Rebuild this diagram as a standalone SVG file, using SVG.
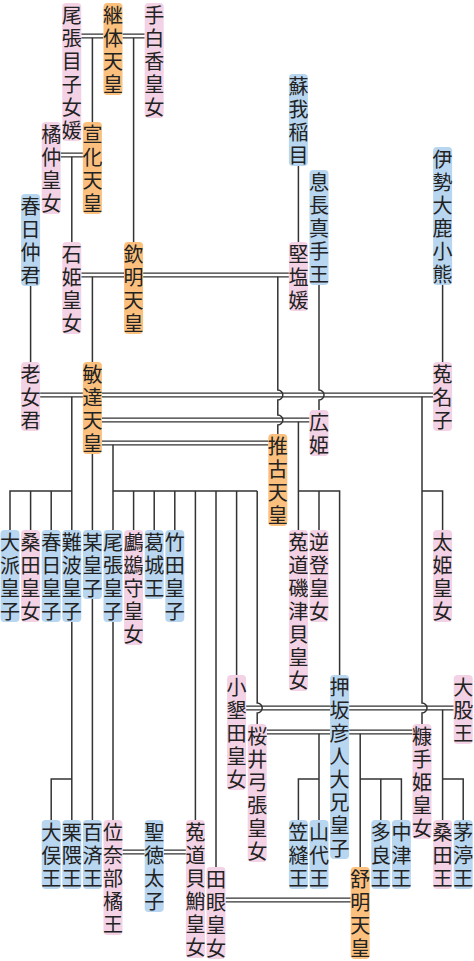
<svg xmlns="http://www.w3.org/2000/svg" width="474" height="961" viewBox="0 0 474 961">
<style>
.p{fill:#f4d2e5}.o{fill:#fbc07d}.u{fill:#b8d6f0}
text{font-family:"Noto Sans CJK JP","Noto Sans CJK SC",sans-serif;font-size:20px;fill:#222;writing-mode:vertical-rl;letter-spacing:3px}
.l{stroke:#333;stroke-width:1.5;fill:none}
.d{stroke:#333;stroke-width:1.3;fill:none}
</style>
<rect width="474" height="961" fill="#fff"/>
<g id="connectors">
<path class="d" d="M81.3 34.2H103.5M81.3 37.8H103.5"/>
<path class="d" d="M122.5 34.2H144.7M122.5 37.8H144.7"/>
<path class="d" d="M60.7 153.2H82.9M60.7 156.8H82.9"/>
<path class="d" d="M81.3 273.2H124.1M81.3 276.8H124.1"/>
<path class="d" d="M143.1 273.2H288.9M143.1 276.8H288.9"/>
<path class="d" d="M40.1 393.2H82.9M40.1 396.8H82.9"/>
<path class="d" d="M101.9 393.2H433.1M101.9 396.8H433.1"/>
<path class="d" d="M101.9 418.2H309.5M101.9 421.8H309.5"/>
<path class="d" d="M101.9 441.2H268.3M101.9 444.8H268.3"/>
<path class="d" d="M122.5 850.2H144.7M122.5 853.8H144.7"/>
<path class="d" d="M163.7 850.2H185.9M163.7 853.8H185.9"/>
<path class="d" d="M225.5 898.2H350.7M225.5 901.8H350.7"/>
<path class="d" d="M246.1 706.2H330.1M246.1 709.8H330.1"/>
<path class="d" d="M349.1 706.2H453.7M349.1 709.8H453.7"/>
<path class="d" d="M266.7 730.2H330.1M266.7 733.8H330.1"/>
<path class="d" d="M349.1 730.2H412.5M349.1 733.8H412.5"/>
<path class="l" d="M92.4 37.8V122"/>
<path class="l" d="M133.6 37.8V242"/>
<path class="l" d="M71.8 156.8V242"/>
<path class="l" d="M30.6 286V362"/>
<path class="l" d="M298.4 166V242"/>
<path class="l" d="M319 285V390a5 5 0 0 1 0 10V410"/>
<path class="l" d="M442.6 285V362"/>
<path class="l" d="M92.4 276.8V362"/>
<path class="l" d="M277.8 276.8V390a5 5 0 0 1 0 10V415a5 5 0 0 1 0 10V434"/>
<path class="l" d="M71.8 396.8V530M10 530V491H71.8M30.6 491V530M51.2 491V530"/>
<path class="l" d="M92.4 454V530"/>
<path class="l" d="M113 444.8V530M113 491H257.2M133.6 491V530M154.2 491V530M174.8 491V530M195.4 491V820M216 491V867M236.6 491V675M257.2 491V703a5 5 0 0 1 0 10V724"/>
<path class="l" d="M298.4 421.8V530M298.4 491H339.6V675M319 491V530"/>
<path class="l" d="M422 396.8V703a5 5 0 0 1 0 10V724M422 491H442.6V530"/>
<path class="l" d="M71.8 622V820M51.2 820V779H71.8"/>
<path class="l" d="M92.4 599V820"/>
<path class="l" d="M113 622V820"/>
<path class="l" d="M442.6 709.8V820M442.6 779H463.2V820"/>
<path class="l" d="M319 733.8V820M298.4 820V779H319"/>
<path class="l" d="M360.2 733.8V867M360.2 779H401.4V820M380.8 779V820"/>
</g>
<g id="n1"><rect class="p" x="62.3" y="3" width="19" height="138" rx="4"/><text x="71.8" y="5.5">尾張目子女媛</text></g>
<g id="n2"><rect class="o" x="103.5" y="3" width="19" height="92" rx="4"/><text x="113" y="5.5">継体天皇</text></g>
<g id="n3"><rect class="p" x="144.7" y="3" width="19" height="115" rx="4"/><text x="154.2" y="5.5">手白香皇女</text></g>
<g id="n4"><rect class="o" x="82.9" y="122" width="19" height="92" rx="4"/><text x="92.4" y="124.5">宣化天皇</text></g>
<g id="n5"><rect class="p" x="41.7" y="122" width="19" height="92" rx="4"/><text x="51.2" y="124.5">橘仲皇女</text></g>
<g id="n6"><rect class="u" x="21.1" y="194" width="19" height="92" rx="4"/><text x="30.6" y="196.5">春日仲君</text></g>
<g id="n7"><rect class="u" x="288.9" y="74" width="19" height="92" rx="4"/><text x="298.4" y="76.5">蘇我稲目</text></g>
<g id="n8"><rect class="u" x="309.5" y="170" width="19" height="115" rx="4"/><text x="319" y="172.5">息長真手王</text></g>
<g id="n9"><rect class="u" x="433.1" y="147" width="19" height="138" rx="4"/><text x="442.6" y="149.5">伊勢大鹿小熊</text></g>
<g id="n10"><rect class="p" x="62.3" y="242" width="19" height="92" rx="4"/><text x="71.8" y="244.5">石姫皇女</text></g>
<g id="n11"><rect class="o" x="124.1" y="242" width="19" height="92" rx="4"/><text x="133.6" y="244.5">欽明天皇</text></g>
<g id="n12"><rect class="p" x="288.9" y="242" width="19" height="69" rx="4"/><text x="298.4" y="244.5">堅塩媛</text></g>
<g id="n13"><rect class="p" x="21.1" y="362" width="19" height="69" rx="4"/><text x="30.6" y="364.5">老女君</text></g>
<g id="n14"><rect class="o" x="82.9" y="362" width="19" height="92" rx="4"/><text x="92.4" y="364.5">敏達天皇</text></g>
<g id="n15"><rect class="p" x="433.1" y="362" width="19" height="69" rx="4"/><text x="442.6" y="364.5">菟名子</text></g>
<g id="n16"><rect class="p" x="309.5" y="410" width="19" height="46" rx="4"/><text x="319" y="412.5">広姫</text></g>
<g id="n17"><rect class="o" x="268.3" y="434" width="19" height="92" rx="4"/><text x="277.8" y="436.5">推古天皇</text></g>
<g id="n18"><rect class="u" x="0.5" y="530" width="19" height="92" rx="4"/><text x="10" y="532.5">大派皇子</text></g>
<g id="n19"><rect class="p" x="21.1" y="530" width="19" height="92" rx="4"/><text x="30.6" y="532.5">桑田皇女</text></g>
<g id="n20"><rect class="u" x="41.7" y="530" width="19" height="92" rx="4"/><text x="51.2" y="532.5">春日皇子</text></g>
<g id="n21"><rect class="u" x="62.3" y="530" width="19" height="92" rx="4"/><text x="71.8" y="532.5">難波皇子</text></g>
<g id="n22"><rect class="u" x="82.9" y="530" width="19" height="69" rx="4"/><text x="92.4" y="532.5">某皇子</text></g>
<g id="n23"><rect class="u" x="103.5" y="530" width="19" height="92" rx="4"/><text x="113" y="532.5">尾張皇子</text></g>
<g id="n24"><rect class="p" x="124.1" y="530" width="19" height="115" rx="4"/><text x="133.6" y="532.5">鸕鷀守皇女</text></g>
<g id="n25"><rect class="u" x="144.7" y="530" width="19" height="69" rx="4"/><text x="154.2" y="532.5">葛城王</text></g>
<g id="n26"><rect class="u" x="165.3" y="530" width="19" height="92" rx="4"/><text x="174.8" y="532.5">竹田皇子</text></g>
<g id="n27"><rect class="p" x="288.9" y="530" width="19" height="161" rx="4"/><text x="298.4" y="532.5">菟道磯津貝皇女</text></g>
<g id="n28"><rect class="p" x="309.5" y="530" width="19" height="92" rx="4"/><text x="319" y="532.5">逆登皇女</text></g>
<g id="n29"><rect class="p" x="433.1" y="530" width="19" height="92" rx="4"/><text x="442.6" y="532.5">太姫皇女</text></g>
<g id="n30"><rect class="p" x="227.1" y="675" width="19" height="115" rx="4"/><text x="236.6" y="677.5">小墾田皇女</text></g>
<g id="n31"><rect class="u" x="330.1" y="675" width="19" height="184" rx="4"/><text x="339.6" y="677.5">押坂彦人大兄皇子</text></g>
<g id="n32"><rect class="p" x="453.7" y="675" width="19" height="69" rx="4"/><text x="463.2" y="677.5">大股王</text></g>
<g id="n33"><rect class="p" x="247.7" y="724" width="19" height="138" rx="4"/><text x="257.2" y="726.5">桜井弓張皇女</text></g>
<g id="n34"><rect class="p" x="412.5" y="724" width="19" height="115" rx="4"/><text x="422" y="726.5">糠手姫皇女</text></g>
<g id="n35"><rect class="u" x="41.7" y="820" width="19" height="69" rx="4"/><text x="51.2" y="822.5">大俣王</text></g>
<g id="n36"><rect class="u" x="62.3" y="820" width="19" height="69" rx="4"/><text x="71.8" y="822.5">栗隈王</text></g>
<g id="n37"><rect class="u" x="82.9" y="820" width="19" height="69" rx="4"/><text x="92.4" y="822.5">百済王</text></g>
<g id="n38"><rect class="p" x="103.5" y="820" width="19" height="115" rx="4"/><text x="113" y="822.5">位奈部橘王</text></g>
<g id="n39"><rect class="u" x="144.7" y="820" width="19" height="92" rx="4"/><text x="154.2" y="822.5">聖徳太子</text></g>
<g id="n40"><rect class="p" x="185.9" y="820" width="19" height="138" rx="4"/><text x="195.4" y="822.5">菟道貝鮹皇女</text></g>
<g id="n41"><rect class="u" x="288.9" y="820" width="19" height="69" rx="4"/><text x="298.4" y="822.5">笠縫王</text></g>
<g id="n42"><rect class="u" x="309.5" y="820" width="19" height="69" rx="4"/><text x="319" y="822.5">山代王</text></g>
<g id="n43"><rect class="u" x="371.3" y="820" width="19" height="69" rx="4"/><text x="380.8" y="822.5">多良王</text></g>
<g id="n44"><rect class="u" x="391.9" y="820" width="19" height="69" rx="4"/><text x="401.4" y="822.5">中津王</text></g>
<g id="n45"><rect class="p" x="433.1" y="820" width="19" height="69" rx="4"/><text x="442.6" y="822.5">桑田王</text></g>
<g id="n46"><rect class="u" x="453.7" y="820" width="19" height="69" rx="4"/><text x="463.2" y="822.5">茅渟王</text></g>
<g id="n47"><rect class="p" x="206.5" y="867" width="19" height="92" rx="4"/><text x="216" y="869.5">田眼皇女</text></g>
<g id="n48"><rect class="o" x="350.7" y="867" width="19" height="92" rx="4"/><text x="360.2" y="869.5">舒明天皇</text></g>
</svg>
